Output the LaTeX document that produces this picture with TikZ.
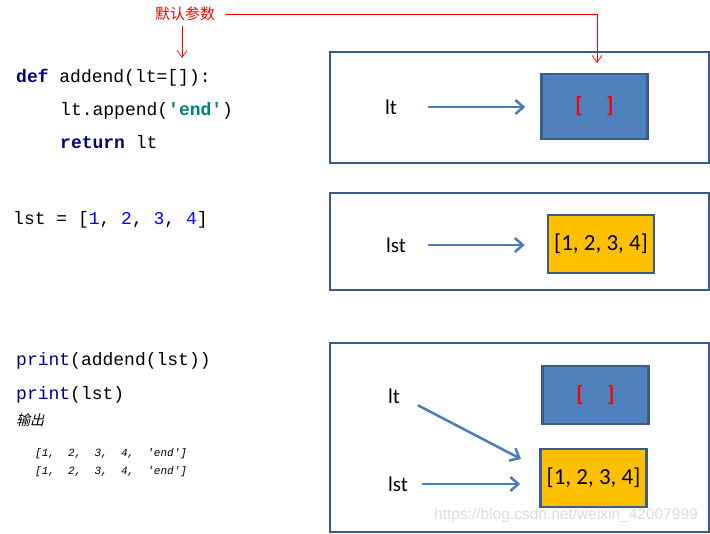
\documentclass[tikz,border=0pt]{standalone}
\usepackage{fontspec}
\setmainfont{Carlito}
\newfontfamily\codefont{Liberation Mono}
\newfontfamily\markfont{Liberation Sans}
\newfontfamily\cjk{Noto Sans CJK SC}
\newfontfamily\cjkslant[FakeSlant=0.25]{Noto Sans CJK SC}
\usetikzlibrary{arrows.meta}
\definecolor{framecol}{HTML}{385D8A}
\definecolor{boxblue}{HTML}{4F81BD}
\definecolor{boxyellow}{HTML}{FFC000}
\definecolor{arrowblue}{HTML}{4A7EBB}
\definecolor{kwnavy}{HTML}{000080}
\definecolor{strteal}{HTML}{008080}
\definecolor{numblue}{HTML}{0000FF}
\tikzset{
  frame/.style={draw=framecol, line width=2.5pt},
  objbox/.style={draw=framecol, line width=2.5pt, inner sep=0pt, minimum width=106pt, minimum height=58pt},
  emptybox/.style={objbox, fill=boxblue, font=\fontsize{22}{24}\selectfont},
  listbox/.style={objbox, fill=boxyellow, font=\fontsize{23}{26}\selectfont},
  varname/.style={inner sep=0pt, font=\fontsize{21}{24}\selectfont},
  ptr/.style={draw=arrowblue, line width=2.5pt, -{Straight Barb[length=8pt,width=14pt]}},
  code/.style={anchor=base west, inner sep=0pt, font=\codefont\fontsize{18}{20}\selectfont},
  outtext/.style={anchor=base west, inner sep=0pt, font=\codefont\itshape\fontsize{11}{13}\selectfont},
  notearrow/.style={draw=red, line width=0.7pt, -{Straight Barb[length=7pt,width=10pt]}}
}
\newcommand{\emptylist}{\textcolor{red}{\bfseries[\hspace{24pt}]}}
\begin{document}
\begin{tikzpicture}[x=1pt, y=-1pt]
  \useasboundingbox (0,0) rectangle (710,534);
  % code on the left
  \node [code] (def) at (16,83) {\textcolor{kwnavy}{\bfseries def} addend(lt=[]):};
  \node [code] (append) at (60,116) {lt.append(\textcolor{strteal}{\bfseries 'end'})};
  \node [code] (ret) at (60,149) {\textcolor{kwnavy}{\bfseries return} lt};
  \node [code] (lstdef) at (13,225) {lst = [\textcolor{numblue}{1}, \textcolor{numblue}{2}, \textcolor{numblue}{3}, \textcolor{numblue}{4}]};
  \node [code] (print1) at (16,366) {\textcolor{kwnavy}{print}(addend(lst))};
  \node [code] (print2) at (16,400) {\textcolor{kwnavy}{print}(lst)};
  \node [anchor=base west, inner sep=0pt, font=\cjkslant\fontsize{14}{16}\selectfont] (outlabel) at (16,426) {输出};
  \node [outtext] (out1) at (35,457) {[1,~~2,~~3,~~4,~~'end']};
  \node [outtext] (out2) at (35,475) {[1,~~2,~~3,~~4,~~'end']};
  % the note on the default value
  \node [inner sep=0pt, text=red, font=\cjk\fontsize{15}{17}\selectfont] (note) at (185,14) {默认参数};
  \coordinate (deflt) at (182,58);
  \coordinate (tip1) at (597,63);
  \draw [notearrow, shorten <=5pt] (note.south -| deflt) -- (deflt);
  \draw [notearrow, shorten <=10pt] (note.east) -| (tip1);
  % first frame
  \draw [frame] (330,52) rectangle (709,163);
  \node [varname] (lt1) at (391,107) {lt};
  \node [emptybox, minimum height=65pt] (empty1) at (594.5,106.5) {\emptylist};
  \draw [ptr, shorten <=31pt, shorten >=15pt] (lt1.east) -- (empty1.west |- lt1.east);
  % second frame
  \draw [frame] (330,193) rectangle (709,290);
  \node [varname] (lst2) at (396,245) {lst};
  \node [listbox] (list2) at (601,244) {[1, 2, 3, 4]};
  \draw [ptr, shorten <=22pt, shorten >=22pt] (lst2.east) -- (list2.west |- lst2.east);
  % third frame
  \draw [frame] (330,343) rectangle (709,532);
  \node [varname] (lt3) at (394,396) {lt};
  \node [emptybox] (empty3) at (595.5,395) {\emptylist};
  \node [varname] (lst3) at (398,484) {lst};
  \node [listbox] (list3) at (593.5,478) {[1, 2, 3, 4]};
  \coordinate (hit) at (521,459);
  \draw [ptr, shorten <=20pt] (lt3.east) -- (hit);
  \draw [ptr, shorten <=14pt, shorten >=19pt] (lst3.east) -- (list3.west |- lst3.east);
  \node [inner sep=0pt, text=black!14, font=\markfont\fontsize{15.5}{17}\selectfont] (mark) at (566,515) {https://blog.csdn.net/weixin\_42007999};
\end{tikzpicture}
\end{document}
